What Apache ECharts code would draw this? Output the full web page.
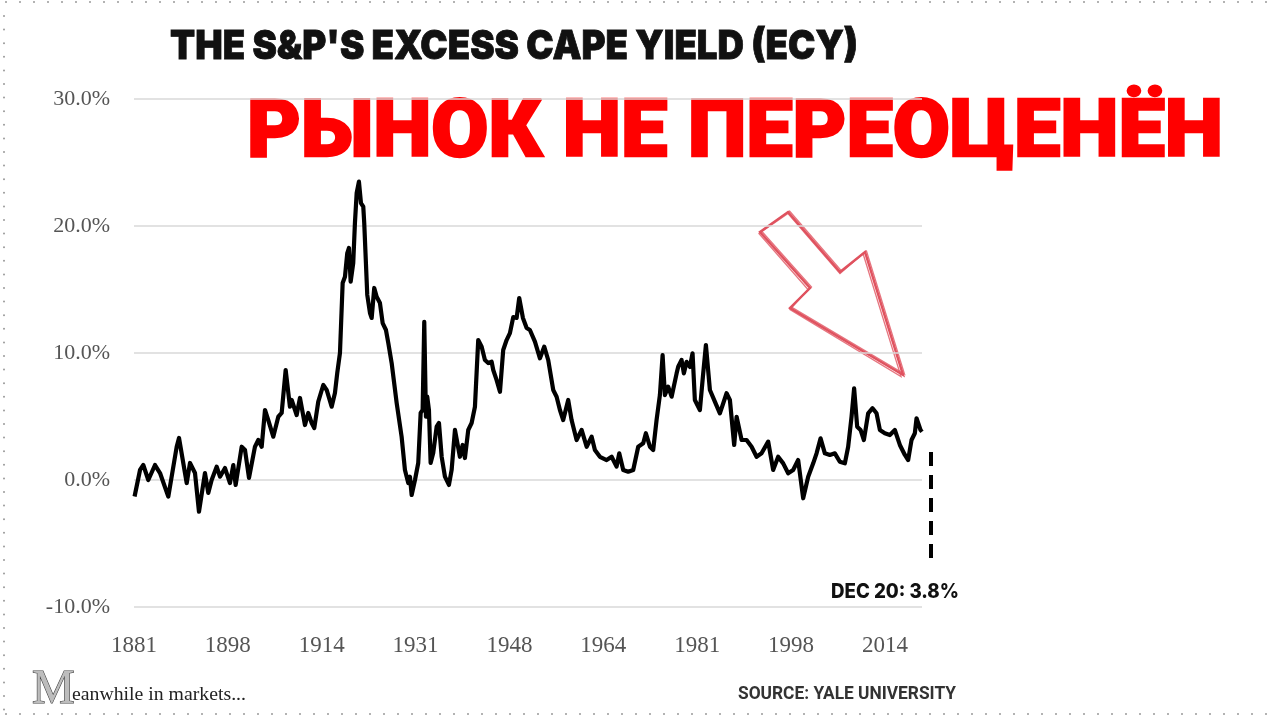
<!DOCTYPE html>
<html>
<head>
<meta charset="utf-8">
<script src="https://cdn.jsdelivr.net/npm/echarts@6/dist/echarts.min.js"></script>
<style>
html,body{margin:0;padding:0;background:#fff;}
#chart{width:1280px;height:720px;}
</style>
</head>
<body>
<div id="chart"></div>
<script>
// ---- data ----
const years = [
1881.10,1882.07,1882.65,1883.54,1884.73,1885.62,1887.09,1888.58,1888.99,1890.36,1890.94,1891.83,1892.54,1893.60,1894.19,1894.79,1895.68,1896.27,1897.16,1898.04,1898.63,1899.05,1900.12,1900.71,1901.42,1902.48,1903.07,1903.67,1904.26,1904.84,1905.73,1906.62,1907.22,1907.93,1908.69,1909.00,1909.88,1910.47,1911.36,1911.94,1912.55,1913.01,1913.72,1914.61,1915.21,1916.10,1916.68,1917.09,
1917.57,1918.05,1918.46,1918.87,1919.17,1919.47,1919.93,1920.23,1920.54,1920.94,1921.30,1921.71,1921.88,1922.42,1922.90,1923.20,1923.66,1924.09,1924.67,1925.15,1925.74,1926.15,1926.75,1927.64,1928.52,1929.11,1929.70,1930.00,1930.30,1930.89,1931.47,1931.90,1932.25,1932.54,1932.84,1933.07,1933.37,1933.67,1934.13,1934.74,1935.15,1935.63,1936.21,1936.92,1937.40,1937.99,1938.29,1938.87,1939.35,1939.76,1940.35,1940.95,1941.54,1942.12,1942.73,1943.31,1943.90,1944.50,1944.79,1945.39,1945.98,1946.56,1947.16,1947.75,1948.34,1948.94,1949.40,1950.06,1950.72,1951.30,
1952.19,1953.08,1953.84,1954.55,1955.44,1956.04,1956.63,1957.21,1958.10,1958.70,1959.59,1960.48,1961.37,1962.26,1962.84,1963.73,1964.92,1965.81,1966.69,1967.16,1967.87,1968.75,1969.64,1970.53,1971.42,1971.89,1972.61,1973.19,1973.79,1974.38,1974.86,1975.27,1975.85,1976.46,1977.35,1977.63,1978.23,1978.64,1979.12,1979.71,1980.18,1980.59,1981.48,1982.01,1982.55,1983.26,1984.14,1985.03,1986.22,1986.81,1987.57,1988.00,1988.89,1989.77,1990.66,1991.55,1992.43,1993.61,1994.49,1995.38,1996.27,1997.16,1998.04,1998.93,1999.82,2000.71,2001.60,2002.20,2002.91,2003.67,2004.56,2005.45,2006.33,2007.22,2007.81,2008.41,2008.87,2009.41,2010.01,2010.60,2011.36,2012.14,2012.85,2013.44,2014.32,2015.21,2016.10,2016.99,2017.88,2018.46,2019.06,2019.65,2019.95,2020.66,2020.92
];
const ecy = [
-1.3,0.79,1.18,0.0,1.18,0.55,-1.31,2.62,3.31,-0.24,1.34,0.55,-2.50,0.55,-1.02,0.0,1.05,0.26,0.94,-0.24,1.18,-0.39,2.62,2.36,0.16,2.62,3.15,2.62,5.51,4.72,3.41,4.98,5.28,8.66,5.77,6.30,5.12,6.46,4.33,5.28,4.49,4.09,6.17,7.48,7.09,5.77,6.85,8.43,
10.0,15.51,16.01,17.87,18.27,15.61,17.09,20.24,22.6,23.49,21.81,21.52,20.24,14.57,13.15,12.76,15.12,14.43,13.94,12.36,11.81,10.79,9.21,6.06,3.41,0.79,-0.24,0.26,-1.18,0.0,1.34,5.28,5.51,12.46,4.98,6.56,5.51,1.34,2.13,4.20,4.49,1.83,0.26,-0.39,0.79,3.94,3.94,1.83,2.76,1.73,3.94,4.49,5.77,11.02,10.5,9.45,9.21,9.31,8.66,7.87,6.95,10.24,11.02,11.57,12.83,12.76,14.33,12.76,11.97,11.81,
10.89,9.58,10.5,9.45,7.09,6.56,5.51,4.72,6.30,4.72,3.15,3.94,2.62,3.41,2.36,1.83,1.57,1.83,1.05,2.10,0.79,0.65,0.79,2.62,2.89,3.68,2.62,2.36,4.72,6.69,9.84,6.69,7.35,6.56,8.4,8.92,9.45,8.40,9.31,8.90,9.98,6.30,5.51,8.11,10.63,7.09,6.17,5.25,6.83,6.30,2.76,4.98,3.15,3.15,2.62,1.83,2.10,3.02,0.79,1.83,1.31,0.53,0.79,1.57,-1.44,0.26,1.31,2.10,3.28,2.10,1.97,2.10,1.44,1.31,2.62,4.98,7.22,4.20,3.94,3.15,5.25,5.65,5.25,3.94,3.68,3.54,3.94,2.76,1.97,1.57,3.15,3.68,4.86,3.94,3.8
];
const xTickLabels = ['1881','1898','1914','1931','1948','1964','1981','1998','2014'];
const yTicks = [-10, 0, 10, 20, 30];
const firstYear = 1881;
const lastYear = 2020.92;   // Dec 2020
const tickStepMonths = 200; // spacing between x labels
const titleText = "THE S&P'S EXCESS CAPE YIELD (ECY)";
const bannerText = 'РЫНОК НЕ ПЕРЕОЦЕНЁН';
const endNote = 'DEC 20: 3.8%';
const sourceText = 'SOURCE: YALE UNIVERSITY';
const brandInitial = 'M';
const brandRest = 'eanwhile in markets...';

// ---- build ----
const seriesData = years.map((y, i) => [y, ecy[i]]);
const tickPositions = xTickLabels.map((_, i) => firstYear + i * tickStepMonths / 12);

const mctx = document.createElement('canvas').getContext('2d');
function fit(text, weight, size, family, target) {
  mctx.font = weight + ' ' + size + 'px ' + family;
  const w = mctx.measureText(text).width;
  return w > 0 ? target / w : 1;
}

const chart = echarts.init(document.getElementById('chart'), null, {renderer: 'canvas'});

const titleFam = 'Inter, "Open Sans", sans-serif';
const bannerFam = 'Roboto, "Noto Sans", sans-serif';
const noteFam = 'Inter, "Open Sans", sans-serif';
const srcFam = 'Roboto, "Noto Sans", sans-serif';
const serifFam = '"Liberation Serif", "DejaVu Serif", serif';

// dotted frame
function dots() {
  const els = [];
  const col = '#9a9a9a';
  for (let x = 6; x < 1280; x += 14) {
    els.push({type: 'circle', shape: {cx: x, cy: 2, r: 1}, style: {fill: col}, silent: true});
    els.push({type: 'circle', shape: {cx: x, cy: 714, r: 1}, style: {fill: col}, silent: true});
  }
  for (let y = 16; y < 712; y += 13.6) {
    els.push({type: 'circle', shape: {cx: 4, cy: y, r: 1}, style: {fill: col}, silent: true});
  }
  return els;
}

// hand-drawn arrow (annotation)
const arrowPts = [[788,212],[840,272],[865,252],[903,375],[790,308],[810,288],[760,232]];
function sketchArrow() {
  const els = [];
  const offs = [[0,0],[1.5,-1],[-1,1.5]];
  offs.forEach((o, k) => {
    els.push({
      type: 'polygon',
      shape: {points: arrowPts.map(p => [p[0] + o[0] + (k===2 ? (p[1]%3)-1 : 0), p[1] + o[1]])},
      style: {fill: 'none', stroke: '#e0525f', lineWidth: k === 0 ? 2.4 : 1.3, opacity: k === 0 ? 1 : 0.8},
      silent: true
    });
  });
  return els;
}

const graphics = [].concat(dots(), sketchArrow(), [
  {
    type: 'text', x: 170, y: 47,
    scaleX: fit(titleText, 900, 40, titleFam, 688),
    style: {text: titleText, fontFamily: titleFam, fontWeight: 900, fontSize: 40, fill: '#111', stroke: '#111', lineWidth: 0.8, verticalAlign: 'middle'}
  },
  {
    type: 'text', x: 247, y: 136,
    scaleX: fit(bannerText, 900, 80, bannerFam, 976),
    style: {text: bannerText, fontFamily: bannerFam, fontWeight: 900, fontSize: 80, fill: '#ff0000', stroke: '#ff0000', lineWidth: 2.4, verticalAlign: 'middle'}
  },
  {
    type: 'line', shape: {x1: 931, y1: 452, x2: 931, y2: 566},
    style: {stroke: '#000', lineWidth: 4, lineDash: [14, 9]}, silent: true
  },
  {
    type: 'text', x: 831, y: 592,
    scaleX: fit(endNote, 800, 20, noteFam, 128),
    style: {text: endNote, fontFamily: noteFam, fontWeight: 800, fontSize: 20, fill: '#111', verticalAlign: 'middle'}
  },
  {
    type: 'text', x: 738, y: 694,
    scaleX: fit(sourceText, 'bold', 19, srcFam, 218),
    style: {text: sourceText, fontFamily: srcFam, fontWeight: 'bold', fontSize: 19, fill: '#333', verticalAlign: 'middle'}
  },
  {
    type: 'text', x: 32, y: 690,
    style: {text: brandInitial, fontFamily: serifFam, fontSize: 48, fill: '#bdbdbd', stroke: '#444', lineWidth: 1.2, verticalAlign: 'middle'}
  },
  {
    type: 'text', x: 72, y: 695,
    scaleX: fit(brandRest, 'normal', 19, serifFam, 174),
    style: {text: brandRest, fontFamily: serifFam, fontSize: 19, fill: '#222', verticalAlign: 'middle'}
  }
]);

const option = {
  backgroundColor: '#ffffff',
  animation: false,
  grid: {left: 134, right: 358, top: 99, bottom: 113, containLabel: false},
  xAxis: {
    type: 'value',
    min: firstYear,
    max: lastYear,
    axisLine: {show: false},
    axisTick: {show: false},
    splitLine: {show: false},
    axisLabel: {
      customValues: tickPositions,
      formatter: function (v) {
        let best = 0, d = Infinity;
        tickPositions.forEach((p, i) => { if (Math.abs(p - v) < d) { d = Math.abs(p - v); best = i; } });
        return xTickLabels[best];
      },
      fontFamily: serifFam, fontSize: 23, color: '#555', margin: 27
    }
  },
  yAxis: {
    type: 'value',
    min: yTicks[0],
    max: yTicks[yTicks.length - 1],
    interval: 10,
    axisLine: {show: false},
    axisTick: {show: false},
    splitLine: {show: true, lineStyle: {color: '#d9d9d9', width: 1.5}},
    axisLabel: {
      formatter: v => v.toFixed(1) + '%',
      fontFamily: serifFam, fontSize: 22, color: '#555', margin: 24
    }
  },
  series: [{
    type: 'line',
    data: seriesData,
    showSymbol: false,
    symbol: 'none',
    lineStyle: {color: '#000', width: 4.2, join: 'round'},
    z: 3
  }],
  graphic: graphics
};
chart.setOption(option);
</script>
</body>
</html>
